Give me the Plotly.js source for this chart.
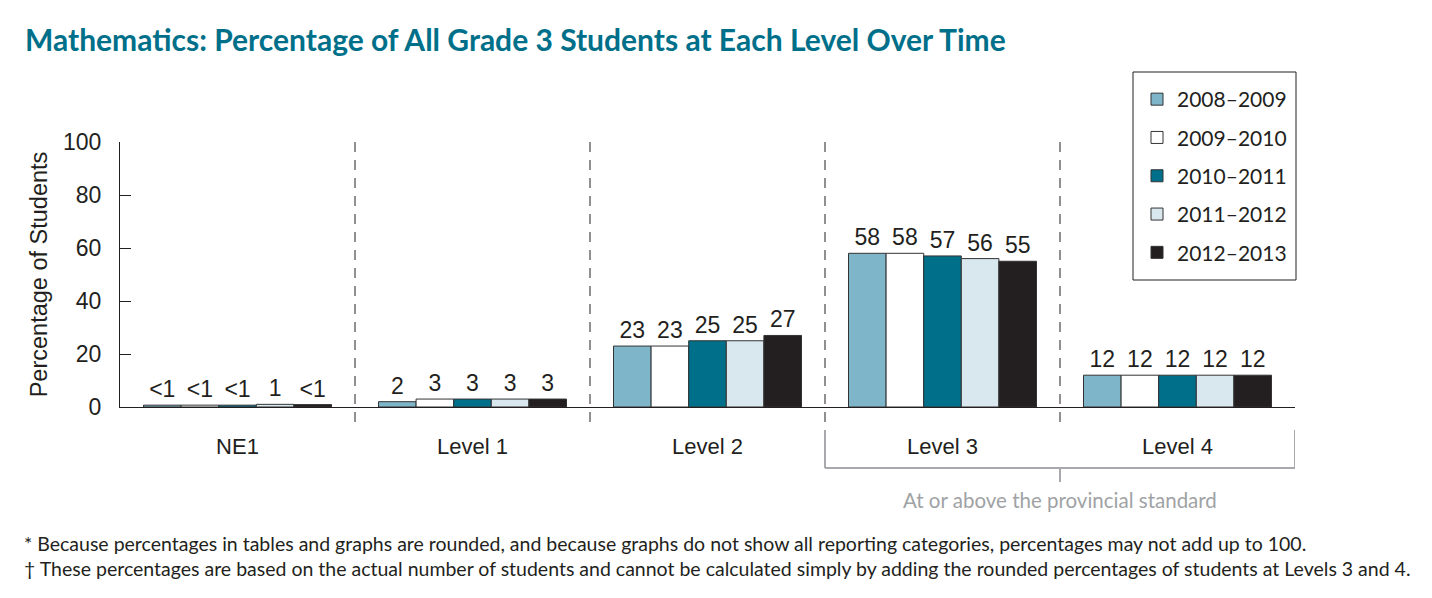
<!DOCTYPE html>
<html>
<head>
<meta charset="utf-8">
<script src="https://cdn.plot.ly/plotly-3.0.1.min.js"></script>
<style>html,body{margin:0;padding:0;background:#fff;}#chart{width:1432px;height:598px;}</style>
</head>
<body>
<div id="chart"></div>
<script>
var categories = ['NE1', 'Level 1', 'Level 2', 'Level 3', 'Level 4'];
var seriesNames = ['2008\u20132009', '2009\u20132010', '2010\u20132011', '2011\u20132012', '2012\u20132013'];
var values2008 = [0.7, 2, 23, 58, 12];
var values2009 = [0.7, 3, 23, 58, 12];
var values2010 = [0.7, 3, 25, 57, 12];
var values2011 = [1, 3, 25, 56, 12];
var values2012 = [0.9, 3, 27, 55, 12];
var labels2008 = ['<1', '2', '23', '58', '12'];
var labels2009 = ['<1', '3', '23', '58', '12'];
var labels2010 = ['<1', '3', '25', '57', '12'];
var labels2011 = ['1', '3', '25', '56', '12'];
var labels2012 = ['<1', '3', '27', '55', '12'];
var seriesColors = ['#7fb5c9', '#ffffff', '#00708a', '#d9e8ef', '#231f20'];
var yTicks = [0, 20, 40, 60, 80, 100];

var allValues = [values2008, values2009, values2010, values2011, values2012];
var allLabels = [labels2008, labels2009, labels2010, labels2011, labels2012];

var armFont = 'Liberation Sans, Arial, Helvetica, sans-serif';
var gillFont = 'Lato, Open Sans, sans-serif';

var traces = seriesNames.map(function (name, i) {
  return {
    type: 'bar',
    name: name,
    x: categories,
    y: allValues[i],
    text: allLabels[i],
    textposition: 'outside',
    constraintext: 'none',
    cliponaxis: false,
    textfont: {family: armFont, size: 23, color: '#231f20'},
    marker: {color: seriesColors[i], line: {color: '#333333', width: 1}},
    legendgroup: 'g' + i,
    hoverinfo: 'x+y+name'
  };
});

function py(p) { return (407 - p) / 265; }
function px(p) { return (p - 120) / 1175; }

var shapes = [];
[0.5, 1.5, 2.5, 3.5].forEach(function (xv) {
  shapes.push({type: 'line', xref: 'x', yref: 'paper', x0: xv, x1: xv, y0: 1.0, y1: py(425),
    line: {color: '#231f20', width: 1, dash: '10px,8px'}});
});
var bracketColor = '#a7a9ac';
shapes.push({type: 'line', xref: 'x', yref: 'paper', x0: 2.5, x1: 2.5, y0: py(430), y1: py(468), line: {color: bracketColor, width: 2}});
shapes.push({type: 'line', xref: 'x', yref: 'paper', x0: 4.5, x1: 4.5, y0: py(430), y1: py(468), line: {color: bracketColor, width: 2}});
shapes.push({type: 'line', xref: 'x', yref: 'paper', x0: 2.5, x1: 4.5, y0: py(468), y1: py(468), line: {color: bracketColor, width: 2}});
shapes.push({type: 'line', xref: 'x', yref: 'paper', x0: 3.5, x1: 3.5, y0: py(468), y1: py(482), line: {color: bracketColor, width: 2}});
// legend frame
shapes.push({type: 'rect', xref: 'paper', yref: 'paper', x0: px(1133), x1: px(1296), y0: py(280), y1: py(72),
  line: {color: '#231f20', width: 1}, fillcolor: 'rgba(0,0,0,0)', layer: 'above'});

var footFont = {family: gillFont, size: 19.5, color: '#231f20'};
var annotations = [
  {text: 'At or above the provincial standard', xref: 'x', yref: 'paper', x: 3.5, y: py(500),
   xanchor: 'center', yanchor: 'middle', showarrow: false,
   font: {family: gillFont, size: 20.5, color: '#a0a2a5'}},
  {text: '* Because percentages in tables and graphs are rounded, and because graphs do not show all reporting categories, percentages may not add up to 100.',
   xref: 'paper', yref: 'paper', x: px(22), y: py(543), xanchor: 'left', yanchor: 'middle', showarrow: false, font: footFont},
  {text: '\u2020 These percentages are based on the actual number of students and cannot be calculated simply by adding the rounded percentages of students at Levels 3 and 4.',
   xref: 'paper', yref: 'paper', x: px(22), y: py(568), xanchor: 'left', yanchor: 'middle', showarrow: false, font: footFont}
];

var layout = {
  width: 1432, height: 598,
  margin: {l: 120, r: 137, t: 142, b: 191},
  paper_bgcolor: '#ffffff', plot_bgcolor: '#ffffff',
  title: {text: 'Mathematics: Percentage of All Grade 3 Students at Each Level Over Time',
    x: 25 / 1432, xanchor: 'left', xref: 'container', y: 1 - 40 / 598, yanchor: 'middle', yref: 'container',
    font: {family: gillFont, size: 30, color: '#00708a', weight: 'bold'}},
  barmode: 'group', bargap: 0.2, bargroupgap: 0,
  showlegend: true,
  legend: {x: px(1137), y: py(79), xanchor: 'left', yanchor: 'top',
    borderwidth: 0, bgcolor: 'rgba(0,0,0,0)',
    traceorder: 'grouped', tracegroupgap: 8,
    font: {family: gillFont, size: 21, color: '#231f20'}},
  xaxis: {type: 'category', range: [-0.5, 4.5], showline: true, linecolor: '#231f20', linewidth: 1,
    ticks: 'outside', ticklen: 20, tickcolor: 'rgba(0,0,0,0)', showgrid: false, zeroline: false,
    tickfont: {family: armFont, size: 22, color: '#231f20'}, fixedrange: true},
  yaxis: {range: [0, 100], tickvals: yTicks, showline: true, linecolor: '#231f20', linewidth: 1,
    ticks: 'inside', ticklen: 11, tickcolor: '#231f20', showgrid: false, zeroline: false,
    ticklabelstandoff: 13,
    tickfont: {family: armFont, size: 23, color: '#231f20'},
    title: {text: 'Percentage of Students', standoff: 8,
      font: {family: armFont, size: 23.5, color: '#231f20'}}, fixedrange: true},
  shapes: shapes,
  annotations: annotations
};

Plotly.newPlot('chart', traces, layout, {displayModeBar: false, staticPlot: true});
</script>
</body>
</html>
